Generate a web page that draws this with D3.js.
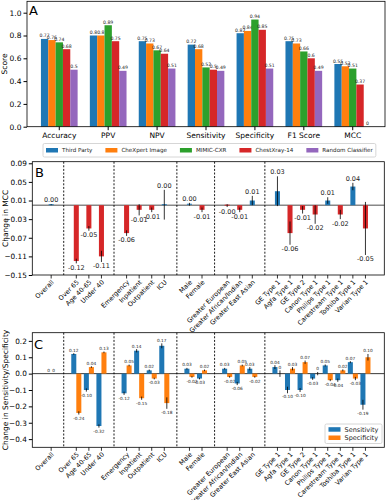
<!DOCTYPE html>
<html>
<head>
<meta charset="utf-8">
<script src="https://cdn.jsdelivr.net/npm/d3@7"></script>
<style>
  body { margin: 0; background: #fff; }
  svg text { font-family: "DejaVu Sans", sans-serif; }
</style>
</head>
<body>
<div id="chart"></div>
<script>
// ---- panel A data
var metrics = ["Accuracy", "PPV", "NPV", "Sensitivity", "Specificity", "F1 Score", "MCC"];
var classifiers = ["Third Party", "CheXpert Image", "MIMIC-CXR", "ChestXray-14", "Random Classifier"];
var thirdParty = [0.77, 0.8, 0.75, 0.72, 0.82, 0.75, 0.55];
var chexpert   = [0.76, 0.8, 0.73, 0.68, 0.84, 0.73, 0.53];
var mimic      = [0.74, 0.89, 0.67, 0.52, 0.94, 0.66, 0.51];
var chestxray  = [0.68, 0.75, 0.64, 0.5, 0.85, 0.6, 0.37];
var randomClf  = [0.5, 0.49, 0.51, 0.49, 0.51, 0.49, 0];
var scoreTicks = [0, 0.2, 0.4, 0.6, 0.8, 1.0];

// ---- panels B and C data (subgroups are grouped, groups split by dashed lines)
var subgroupGroups = [
  ["Overall"],
  ["Over 65", "Age 40-65", "Under 40"],
  ["Emergency", "Inpatient", "Outpatient", "ICU"],
  ["Male", "Female"],
  ["Greater European", "Greater African/Indian", "Greater East Asian"],
  ["GE Type 1", "Agfa Type 1", "GE Type 2", "Canon Type 1", "Philips Type 1", "Carestream Type 1", "Toshiba Type 1", "Varian Type 1"]
];
var mccChange = [0.001, -0.12, -0.05, -0.11, -0.06, -0.01, -0.01, 0.001, 0.002, -0.01, -0.001, -0.01, 0.01,
                 0.03, -0.06, -0.01, -0.02, 0.01, -0.02, 0.04, -0.05];
var mccErr    = [0.001, 0.005, 0.005, 0.012, 0.006, 0.012, 0.005, 0.032, 0.003, 0.005, 0.003, 0.005, 0.01,
                 0.032, 0.025, 0.008, 0.02, 0.007, 0.01, 0.008, 0.057];
var mccTicks = [0.09, 0.05, 0.01, -0.03, -0.07, -0.11, -0.15];

var sensChange = [0, 0.12, -0.10, -0.32, -0.12, 0.14, 0.02, 0.17, 0.03, -0.03, 0.03, -0.06, 0.03,
                  0.04, -0.10, -0.10, -0.03, 0.05, -0.04, 0.07, -0.19];
var sensErr    = [0, 0.005, 0.01, 0.01, 0.01, 0.01, 0.005, 0.015, 0.005, 0.005, 0.005, 0.01, 0.01,
                  0.012, 0.02, 0.012, 0.008, 0.006, 0.01, 0.006, 0.03];
var specChange = [0, -0.24, 0.04, 0.13, 0.05, -0.15, -0.03, -0.18, -0.02, 0.02, -0.02, 0.05, -0.02,
                  0, 0.03, 0.07, 0, -0.04, 0.02, -0.03, 0.10];
var specErr    = [0, 0.01, 0.005, 0.005, 0.005, 0.01, 0.005, 0.035, 0.005, 0.005, 0.005, 0.005, 0.005,
                  0.02, 0.01, 0.01, 0.01, 0.006, 0.006, 0.01, 0.02];
var sensTicks = [0.2, 0.1, 0.0, -0.1, -0.2, -0.3, -0.4];

var colors = ["#1f77b4", "#ff7f0e", "#2ca02c", "#d62728", "#9467bd"];
var W = 387, H = 500;
var minus = function (s) { return s.replace("-", "\u2212"); };

var svg = d3.select("#chart").append("svg").attr("width", W).attr("height", H);

// ================= Panel A
var a_left = 27, a_right = 385, a_top = 1.3, a_bottom = 126.7;
var xA = d3.scaleBand().domain(metrics).range([a_left, a_right]).paddingInner(0.25).paddingOuter(0.285);
var xSub = d3.scaleBand().domain(classifiers).range([0, xA.bandwidth()]);
var yA = d3.scaleLinear().domain([0, 1.1]).range([a_bottom, a_top]);
var seriesA = [thirdParty, chexpert, mimic, chestxray, randomClf];

var gA = svg.append("g");
seriesA.forEach(function (vals, j) {
  var cls = classifiers[j];
  gA.selectAll(".barA" + j).data(vals).enter().append("rect")
    .attr("x", function (d, i) { return xA(metrics[i]) + xSub(cls); })
    .attr("y", function (d) { return yA(d); })
    .attr("width", xSub.bandwidth())
    .attr("height", function (d) { return a_bottom - yA(d); })
    .attr("fill", colors[j]);
  gA.selectAll(".lblA" + j).data(vals).enter().append("text")
    .attr("x", function (d, i) { return xA(metrics[i]) + xSub(cls) + xSub.bandwidth() / 2; })
    .attr("y", function (d) { return yA(d) - 1.5; })
    .attr("text-anchor", "middle")
    .attr("font-size", 4.6)
    .attr("fill", "#222")
    .text(function (d) { return String(+d.toFixed(2)); });
});
gA.append("g").attr("transform", "translate(0," + a_bottom + ")")
  .call(d3.axisBottom(xA).tickSize(3.5).tickPadding(2))
  .call(function (g) { g.select(".domain").remove(); g.selectAll("text").attr("font-size", 7.5).attr("fill", "#000"); });
gA.append("g").attr("transform", "translate(" + a_left + ",0)")
  .call(d3.axisLeft(yA).tickValues(scoreTicks).tickFormat(d3.format(".1f")).tickSize(3.5).tickPadding(2))
  .call(function (g) { g.select(".domain").remove(); g.selectAll("text").attr("font-size", 7.5).attr("fill", "#000"); });
gA.append("rect").attr("x", a_left).attr("y", a_top).attr("width", a_right - a_left).attr("height", a_bottom - a_top)
  .attr("fill", "none").attr("stroke", "#000").attr("stroke-width", 0.8);
gA.append("text").attr("transform", "translate(7," + ((a_top + a_bottom) / 2) + ") rotate(-90)")
  .attr("text-anchor", "middle").attr("font-size", 7.5).text("Score");
gA.append("text").attr("x", 29).attr("y", 15).attr("font-size", 13).text("A");

// legend A
var legA = svg.append("g");
var legBox = legA.append("rect").attr("x", 43).attr("y", 143.5).attr("height", 13.5).attr("rx", 1.5)
  .attr("fill", "#fff").attr("stroke", "#ccc").attr("stroke-width", 0.8);
var lx = 46;
classifiers.forEach(function (c, j) {
  legA.append("rect").attr("x", lx).attr("y", 148).attr("width", 12).attr("height", 4.5).attr("fill", colors[j]);
  var t = legA.append("text").attr("x", lx + 16).attr("y", 152.2).attr("font-size", 5.6).attr("fill", "#222").text(c);
  lx += 16 + t.node().getComputedTextLength() + 13;
});
legBox.attr("width", lx - 13 + 3 - 43);

// ================= shared x positions for B and C
var subgroups = [], positions = [], dividers = [];
var pos = 0;
subgroupGroups.forEach(function (grp, gi) {
  if (gi > 0) { dividers.push(pos); pos += 1; }
  grp.forEach(function (s) { subgroups.push(s); positions.push(pos); pos += 1; });
});
var p_left = 32.3, p_right = 384.3;
var xP = d3.scaleLinear().domain([-1.5, 26.5]).range([p_left, p_right]);

function drawXLabels(g, bottom) {
  g.selectAll(".xl").data(subgroups).enter().append("text")
    .attr("transform", function (d, i) { return "translate(" + (xP(positions[i]) + 1.5) + "," + (bottom + 6) + ") rotate(-45)"; })
    .attr("text-anchor", "end").attr("dy", "0.35em").attr("font-size", 6.5).attr("fill", "#000")
    .text(function (d) { return d; });
  g.selectAll(".xt").data(positions).enter().append("line")
    .attr("x1", function (d) { return xP(d); }).attr("x2", function (d) { return xP(d); })
    .attr("y1", bottom).attr("y2", bottom + 3.5).attr("stroke", "#000").attr("stroke-width", 0.8);
}
function drawFrame(g, y, top, bottom, ticks, fmt) {
  g.append("g").attr("transform", "translate(" + p_left + ",0)")
    .call(d3.axisLeft(y).tickValues(ticks).tickFormat(function (d) { return minus(fmt(d)); }).tickSize(3.5).tickPadding(2))
    .call(function (s) { s.select(".domain").remove(); s.selectAll("text").attr("font-size", 7.3).attr("fill", "#000"); });
  g.selectAll(".div").data(dividers).enter().append("line")
    .attr("x1", function (d) { return xP(d); }).attr("x2", function (d) { return xP(d); })
    .attr("y1", top).attr("y2", bottom).attr("stroke", "#000").attr("stroke-width", 0.9).attr("stroke-dasharray", "2,1.6");
  g.append("rect").attr("x", p_left).attr("y", top).attr("width", p_right - p_left).attr("height", bottom - top)
    .attr("fill", "none").attr("stroke", "#000").attr("stroke-width", 0.8);
  drawXLabels(g, bottom);
}

// ================= Panel B
var b_top = 161.7, b_bottom = 275;
var yB = d3.scaleLinear().domain([-0.15, 0.0934]).range([b_bottom, b_top]);
var gB = svg.append("g");
gB.append("line").attr("x1", p_left).attr("x2", p_right).attr("y1", yB(0)).attr("y2", yB(0))
  .attr("stroke", "#888").attr("stroke-width", 1.5);
var bw = xP(0.4) - xP(0);
gB.selectAll(".barB").data(mccChange).enter().append("rect")
  .attr("x", function (d, i) { return xP(positions[i]) - bw / 2; })
  .attr("y", function (d) { return Math.min(yB(d), yB(0)) - (Math.abs(d) < 0.005 ? 0.5 : 0); })
  .attr("width", bw)
  .attr("height", function (d) { return Math.max(Math.abs(yB(d) - yB(0)), 1); })
  .attr("fill", function (d) { return d > 0 ? colors[0] : colors[3]; });
gB.selectAll(".errB").data(mccChange).enter().append("line")
  .attr("x1", function (d, i) { return xP(positions[i]); }).attr("x2", function (d, i) { return xP(positions[i]); })
  .attr("y1", function (d, i) { return yB(d - mccErr[i]); }).attr("y2", function (d, i) { return yB(d + mccErr[i]); })
  .attr("stroke", "#000").attr("stroke-width", 0.8);
gB.selectAll(".lblB").data(mccChange).enter().append("text")
  .attr("x", function (d, i) { return xP(positions[i]); })
  .attr("y", function (d, i) { return d >= 0 ? yB(d + mccErr[i]) - 2 : yB(d - mccErr[i]) + 6.5; })
  .attr("text-anchor", "middle").attr("font-size", 6.5).attr("fill", "#222")
  .text(function (d) { return d.toFixed(2); });
drawFrame(gB, yB, b_top, b_bottom, mccTicks, d3.format(".2f"));
gB.append("text").attr("transform", "translate(8," + ((b_top + b_bottom) / 2) + ") rotate(-90)")
  .attr("text-anchor", "middle").attr("font-size", 7.5).text("Change in MCC");
gB.append("text").attr("x", 35).attr("y", 176.5).attr("font-size", 13).text("B");

// ================= Panel C
var c_top = 332.7, c_bottom = 447.3;
var yC = d3.scaleLinear().domain([-0.45, 0.25]).range([c_bottom, c_top]);
var gC = svg.append("g");
gC.append("line").attr("x1", p_left).attr("x2", p_right).attr("y1", yC(0)).attr("y2", yC(0))
  .attr("stroke", "#222").attr("stroke-width", 0.9);
var cw = xP(0.4) - xP(0);
[[sensChange, sensErr, -0.2, colors[0]], [specChange, specErr, 0.2, colors[1]]].forEach(function (s, k) {
  var vals = s[0], errs = s[1], off = s[2], col = s[3];
  gC.selectAll(".barC" + k).data(vals).enter().append("rect")
    .attr("x", function (d, i) { return xP(positions[i] + off) - cw / 2; })
    .attr("y", function (d) { return Math.min(yC(d), yC(0)); })
    .attr("width", cw)
    .attr("height", function (d) { return Math.abs(yC(d) - yC(0)); })
    .attr("fill", col);
  gC.selectAll(".errC" + k).data(vals).enter().append("line")
    .attr("x1", function (d, i) { return xP(positions[i] + off); }).attr("x2", function (d, i) { return xP(positions[i] + off); })
    .attr("y1", function (d, i) { return yC(d - errs[i]); }).attr("y2", function (d, i) { return yC(d + errs[i]); })
    .attr("stroke", "#000").attr("stroke-width", 0.8);
  gC.selectAll(".lblC" + k).data(vals).enter().append("text")
    .attr("x", function (d, i) { return xP(positions[i] + off); })
    .attr("y", function (d, i) { return d >= 0 ? yC(d + errs[i]) - 1.5 : yC(d - errs[i]) + 5; })
    .attr("text-anchor", "middle").attr("font-size", 4.3).attr("fill", "#222")
    .text(function (d) { return d === 0 ? "0" : d.toFixed(2); });
});
drawFrame(gC, yC, c_top, c_bottom, sensTicks, d3.format(".1f"));
gC.append("text").attr("transform", "translate(8," + ((c_top + c_bottom) / 2) + ") rotate(-90)")
  .attr("text-anchor", "middle").attr("font-size", 7.5).text("Change in Sensitivity/Specificity");
gC.append("text").attr("x", 34).attr("y", 348.5).attr("font-size", 13).text("C");

// legend C
var legC = svg.append("g");
legC.append("rect").attr("x", 325).attr("y", 424).attr("width", 57).attr("height", 19.5).attr("rx", 1.5)
  .attr("fill", "#fff").attr("stroke", "#ccc").attr("stroke-width", 0.8);
["Sensitivity", "Specificity"].forEach(function (c, k) {
  legC.append("rect").attr("x", 328.5).attr("y", 427.2 + k * 8.3).attr("width", 12).attr("height", 4.5).attr("fill", colors[k]);
  legC.append("text").attr("x", 344.5).attr("y", 431.5 + k * 8.3).attr("font-size", 6.5).attr("fill", "#222").text(c);
});
</script>
</body>
</html>
